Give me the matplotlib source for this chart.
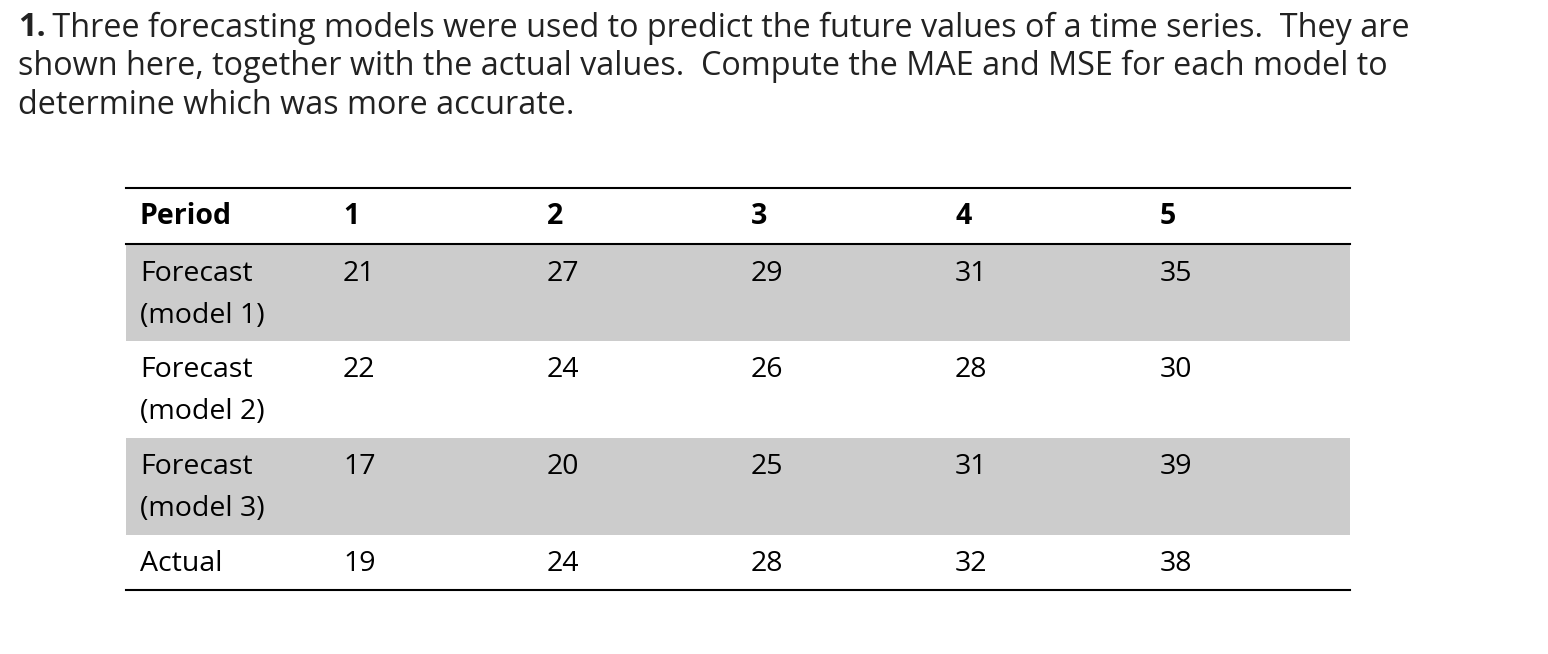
import matplotlib
matplotlib.use("Agg")
import matplotlib.pyplot as plt
from matplotlib.patches import Rectangle

question = ["1. Three forecasting models were used to predict the future values of a time series.  They are",
            "shown here, together with the actual values.  Compute the MAE and MSE for each model to",
            "determine which was more accurate."]
periods = ["1", "2", "3", "4", "5"]
row_labels = [["Forecast", "(model 1)"], ["Forecast", "(model 2)"], ["Forecast", "(model 3)"], ["Actual"]]
model1 = [21, 27, 29, 31, 35]
model2 = [22, 24, 26, 28, 30]
model3 = [17, 20, 25, 31, 39]
actual = [19, 24, 28, 32, 38]
rows = [model1, model2, model3, actual]

plt.rcParams['font.family'] = ['Open Sans', 'DejaVu Sans']
fig = plt.figure(figsize=(15.48, 6.54), dpi=100)
ax = fig.add_axes([0, 0, 1, 1])
ax.set_xlim(0, 1548); ax.set_ylim(654, 0); ax.axis('off')

col = '#222222'
tfs = 23.3
ax.text(18, 28, "1.", fontsize=tfs, fontweight='bold', va='center', color=col)
ax.text(44, 28, question[0][2:], fontsize=tfs, va='center', color=col)
ax.text(18, 66, question[1], fontsize=tfs, va='center', color=col)
ax.text(18, 105, question[2], fontsize=tfs, va='center', color=col)

x0, x1 = 126, 1350
colx = [343, 547, 751, 955, 1160]
tops = [245, 341, 438, 535]
bots = [341, 438, 535, 590]
fs = 20.5
for i, (lab, vals) in enumerate(zip(row_labels, rows)):
    if i % 2 == 0 and i < 3:
        ax.add_patch(Rectangle((x0, tops[i]), x1 - x0, bots[i] - tops[i], color='#cccccc', lw=0))
    ty = tops[i] + 29
    for j, l in enumerate(lab):
        ax.text(140, ty + 42 * j, l, fontsize=fs, va='center', color='black')
    for x, v in zip(colx, vals):
        ax.text(x, ty, str(v), fontsize=fs, va='center', color='black')
ax.text(140, 217, "Period", fontsize=fs, fontweight='bold', va='center')
for x, p in zip(colx, periods):
    ax.text(x, 217, p, fontsize=fs, fontweight='bold', va='center')
for y in [188, 244, 590]:
    ax.plot([x0, x1], [y, y], color='black', lw=1.5)

fig.savefig("out.png", dpi=100)
